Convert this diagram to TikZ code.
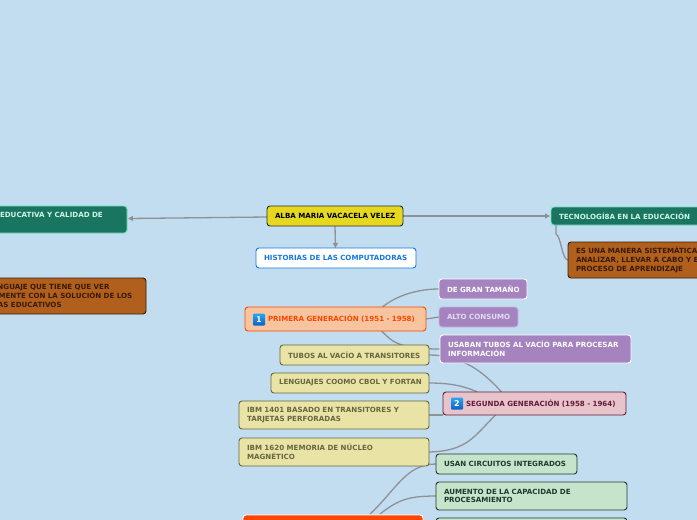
\documentclass[tikz,border=0pt]{standalone}
\usepackage{fontspec}
\setmainfont{DejaVu Sans}
\usetikzlibrary{backgrounds,arrows.meta}
\definecolor{bgblue}{HTML}{C2DDF0}
\definecolor{linegray}{HTML}{8E9296}
\tikzset{x=1pt,y=-1pt,
  geom/.code n args={4}{%
    \pgfmathsetmacro\gw{#3-#1}\pgfmathsetmacro\gh{#4-#2}\pgfmathsetmacro\gt{#3-#1-16}%
    \tikzset{at={(#1,#2)},anchor=north west,minimum width=\gw pt,minimum height=\gh pt,text width=\gt pt}},
  mm/.style={rectangle,rounded corners=3pt,inner xsep=8pt,inner ysep=0pt,outer sep=0pt,align=left,line width=.9pt,
    font=\fontsize{7.1}{8.6}\selectfont\bfseries},
  rootbox/.style={mm,fill=rootyellow,draw=rootline,text=black},
  histbox/.style={mm,fill=white,draw=histblue,text=histblue},
  primabox/.style={mm,fill=primafill,draw=primared,text=primared},
  purplebox/.style={mm,fill=purplefill,draw=white,text=white},
  paleprbox/.style={mm,fill=purplefill,draw=purpleedge,text=purpletext},
  yellowbox/.style={mm,fill=yellowfill,draw=yellowline,text=yellowline},
  segbox/.style={mm,fill=segfill,draw=segline,text=segline},
  greenbox/.style={mm,fill=greenfill,draw=greenline,text=greenline},
  redbox/.style={mm,fill=primared,draw=white},
  tealbox/.style={mm,fill=tealfill,draw=tealedge,text=tealtext},
  brownbox/.style={mm,fill=brownfill,draw=brownline,text=brownline},
  iconbox/.style={rectangle,rounded corners=1pt,top color=iconlight,bottom color=icondark,draw=none,text=white,
    minimum width=12pt,minimum height=12pt,inner sep=0pt,font=\fontsize{8}{8}\selectfont\bfseries},
  link/.style={draw=linegray,line width=1.3pt},
  arrowlink/.style={link,-{Triangle[length=5pt,width=5pt]}}
}
\definecolor{rootyellow}{HTML}{E6D81E}
\definecolor{rootline}{HTML}{25303A}
\definecolor{histblue}{HTML}{1677E0}
\definecolor{primafill}{HTML}{F6C5A0}
\definecolor{primared}{HTML}{FF4500}
\definecolor{purplefill}{HTML}{A583BF}
\definecolor{purpleedge}{HTML}{C6B2DC}
\definecolor{purpletext}{HTML}{E6DAF2}
\definecolor{yellowfill}{HTML}{E9E4A6}
\definecolor{yellowline}{HTML}{66663F}
\definecolor{segfill}{HTML}{E7C4CB}
\definecolor{segline}{HTML}{651B38}
\definecolor{greenfill}{HTML}{C6E3CB}
\definecolor{greenline}{HTML}{1E3A2C}
\definecolor{tealfill}{HTML}{1A7560}
\definecolor{tealedge}{HTML}{6FDDBE}
\definecolor{tealtext}{HTML}{CDF5E6}
\definecolor{brownfill}{HTML}{B0601C}
\definecolor{brownline}{HTML}{3A1A05}
\definecolor{iconlight}{HTML}{2BA5EE}
\definecolor{icondark}{HTML}{0A62C8}
\begin{document}
\begin{tikzpicture}
\useasboundingbox (0,0) rectangle (697,520);
\clip (0,0) rectangle (697,520);

\node (root) [rootbox,geom={267}{206}{403}{226}] {\mbox{ALBA MARIA VACACELA VELEZ}};
\node (hist) [histbox,geom={256}{248}{416}{268}] {\mbox{HISTORIAS DE LAS COMPUTADORAS}};
\node (leftt) [tealbox,geom={-8}{206}{127}{233}] {EDUCATIVA Y CALIDAD DE\\\mbox{}};
\node (leftb) [brownbox,geom={-8}{278}{146}{314}] {\hspace*{-2.5pt}NGUAJE QUE TIENE QUE VER\\\hspace*{-1.5pt}MENTE CON LA SOLUCIÓN DE LOS\\\hspace*{-2pt}AS EDUCATIVOS};
\node (tec) [tealbox,geom={551}{207}{720}{225}] {\mbox{TECNOLOGÍ8A EN LA EDUCACIÓN}};
\node (tecb) [brownbox,geom={568}{242}{730}{278}] {ES UNA MANERA SISTEMÁTICA\\ANALIZAR, LLEVAR A CABO Y E\\PROCESO DE APRENDIZAJE};
\node (prima) [primabox,geom={245}{307}{426}{331}] {\hspace*{15pt}\mbox{PRIMERA GENERACIÓN (1951 - 1958)}};
\node (icona) [iconbox] at (259,319.5) {1};
\node (gran) [purplebox,geom={439}{279}{527}{299}] {\mbox{DE GRAN TAMAÑO}};
\node (alto) [paleprbox,geom={439}{307}{518}{327}] {\mbox{ALTO CONSUMO}};
\node (usab) [purplebox,geom={440}{335}{631}{363}] {USABAN TUBOS AL VACÍO PARA PROCESAR\\INFORMACIÓN};
\node (tubos) [yellowbox,geom={280}{345}{429}{365}] {\mbox{TUBOS AL VACÍO A TRANSITORES}};
\node (leng) [yellowbox,geom={271}{373}{429}{393}] {\mbox{LENGUAJES COOMO CBOL Y FORTAN}};
\node (ibma) [yellowbox,geom={239}{401}{429}{429}] {IBM 1401 BASADO EN TRANSITORES Y\\TARJETAS PERFORADAS};
\node (ibmb) [yellowbox,geom={239}{438}{429}{466}] {IBM 1620 MEMORIA DE NÚCLEO\\MAGNÉTICO};
\node (seg) [segbox,geom={443}{392}{626}{415}] {\hspace*{15pt}\mbox{SEGUNDA GENERACIÓN (1958 - 1964)}};
\node (iconb) [iconbox] at (457,403.5) {2};
\node (usan) [greenbox,geom={436}{454}{577}{474}] {\mbox{USAN CIRCUITOS INTEGRADOS}};
\node (aum) [greenbox,geom={436}{482}{627}{510}] {AUMENTO DE LA CAPACIDAD DE\\PROCESAMIENTO};
\node (low) [greenbox,geom={436}{518}{627}{540}] {};
\node (red) [redbox,geom={243}{515}{423}{540}] {};

\begin{scope}[on background layer]
\fill[bgblue] (0,0) rectangle (697,520);
\draw[arrowlink] ([yshift=-1pt]root.west) -- ([xshift=1pt,yshift=1pt]leftt.east);
\draw[arrowlink] (root.east) -- ([xshift=-1pt]tec.west);
\draw[arrowlink] (root.south) -- ([xshift=-.5pt]hist.north);
\draw[link] ([xshift=5pt]tec.south west) -- ++(0,9) .. controls +(5,2) and +(-6,0) .. (tecb.west);
\draw[link] ([xshift=47pt]prima.north) .. controls +(12,-10) and +(-24,0) .. (gran.west);
\draw[link] (prima.east) -- ([yshift=0pt]alto.west);
\draw[link] ([xshift=46pt]prima.south) .. controls +(10,9) and +(-45,0) .. (usab.west);
\draw[link] ([xshift=-5pt]tubos.east) -- (tubos.east) .. controls +(28,0) and +(-22,-25) .. ([xshift=-33pt]seg.north);
\draw[link] (leng.east) .. controls +(25,0) and +(-12,-5) .. ([xshift=-57pt]seg.north);
\draw[link] (ibma.east) -- (ibma.east -| seg.west);
\draw[link] (ibmb.east) .. controls +(38,-1) and +(-22,22) .. ([xshift=-39pt]seg.south);
\draw[link] ([xshift=37pt,yshift=1pt]red.north) .. controls +(26,-24) and +(-30,0) .. (usan.west);
\draw[link] ([xshift=47pt,yshift=1pt]red.north) .. controls +(18,-14) and +(-28,0) .. (aum.west);
\end{scope}
\end{tikzpicture}
\end{document}
